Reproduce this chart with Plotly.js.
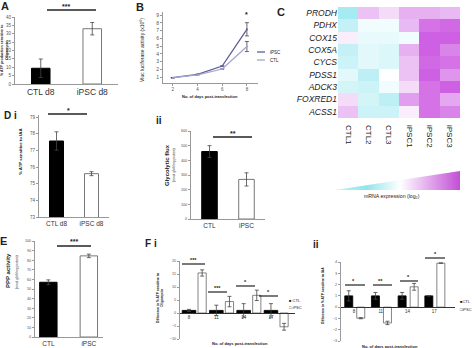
<!DOCTYPE html>
<html><head><meta charset="utf-8">
<script src="https://cdn.plot.ly/plotly-3.0.1.min.js"></script>
<style>html,body{margin:0;padding:0;background:#fff}#g{width:474px;height:348px}</style>
</head><body><div id="g"></div>
<script>
// ---------- DATA ----------
const aCats = ['CTL d8','iPSC d8'];
const aVals = [9.4, 33];
const aErr  = [5.5, 3.7];

const bDays = [2,4,6,8];
const bIPSC = [0.93,1.37,2.44,7.17];
const bIPSCErr = [null,null,null,0.85];
const bCTL  = [0.93,1.30,2.05,4.95];
const bCTLErr = [null,null,null,0.65];

const genes = ['PRODH','PDHX','COX15','COX5A','CYCS','PDSS1','ADCK3','FOXRED1','ACSS1'];
const samples = ['CTL1','CTL2','CTL3','iPSC1','iPSC2','iPSC3'];
const heatZ = [
  [-0.6, 0.35, 0.2, 0.45, 0.45, 0.4],
  [-0.4,-0.1,-0.1, 0.4, 0.8, 0.85],
  [ 0.1,-0.15,-0.15,-0.1, 0.9, 0.9],
  [-0.4,-0.2,-0.25, 0.45, 0.9, 0.7],
  [-0.35,-0.2,-0.25, 0.35, 0.85, 0.8],
  [-0.2,-0.45, 0.0, 0.35, 0.9, 0.6],
  [-0.3,-0.35,-0.1, 0.2, 0.8, 0.9],
  [ 0.2,-0.3,-0.45, 0.55, 0.8, 0.5],
  [ 0.35,-0.35,-0.35, 0.1, 0.8, 0.7]
];
const wedgeX = [0,1,1];
const wedgeY = [0,0,1];

const d1Cats = ['CTL d8','iPSC d8'];
const d1Vals = [77.56, 75.6];
const d1Err  = [0.55, 0.12];

const d2Cats = ['CTL','iPSC'];
const d2Vals = [460, 270];
const d2Err  = [40, 45];

const eCats = ['CTL','iPSC'];
const eVals = [57, 84.5];
const eErr  = [2.5, 1.8];

const fDays = ['8','11','14','17'];
const fPos = [0,1,2,3];
const f1CTL = [1,1,1,1];
const f1CTLErr = [0.4,2,2.6,2.6];
const f1IPSC = [15.4,4.4,6.8,-5.3];
const f1IPSCErr = [1.2,2,2,1.3];
const f2CTL = [1,1,1,1];
const f2CTLErr = [0.45,0.3,0.3,0];
const f2IPSC = [-0.98,-1.4,1.8,3.9];
const f2IPSCErr = [0.05,0.15,0.3,0];

// ---------- HELPERS ----------
const W=474,H=348;
const X=p=>p/W, Y=p=>1-p/H;
const xd=(a,b)=>[X(a),X(b)], yd=(t,b)=>[Y(b),Y(t)];
const FONT='Liberation Sans, Arial, sans-serif';
const tf=(s,c)=>({size:s,color:c||'#555',family:FONT});
function axis(domain, range, extra){
  return Object.assign({domain, range, showgrid:false, zeroline:false, showline:true,
    linecolor:'#999', linewidth:1, ticks:'outside', ticklen:2, tickcolor:'#999',
    tickfont:tf(4.5), fixedrange:true}, extra||{});
}
const anns=[], shapes=[];
function T(text,x,y,size,o){anns.push(Object.assign({xref:'paper',yref:'paper',x:X(x),y:Y(y),text,showarrow:false,
  font:{size,family:FONT,color:'#222'},xanchor:'center',yanchor:'middle'},o||{}));}
function L(x0,x1,y,w,c){shapes.push({type:'line',xref:'paper',yref:'paper',x0:X(x0),x1:X(x1),y0:Y(y),y1:Y(y),line:{color:c||'#222',width:w||1.6}});}
const errS=(arr)=>({type:'data',array:arr,visible:true,color:'#444',thickness:0.8,width:2});
const blackWhite={color:['#000','#fff'],line:{color:['#000','#777'],width:1}};

// ---------- TRACES ----------
const traces=[
 {type:'bar',x:aCats,y:aVals,error_y:errS(aErr),marker:blackWhite,width:0.36,xaxis:'x',yaxis:'y',hoverinfo:'skip'},
 {type:'scatter',mode:'lines+markers',x:bDays,y:bIPSC,error_y:errS(bIPSCErr),line:{color:'#5d5f95',width:1.3},marker:{size:2,color:'#5d5f95'},xaxis:'x2',yaxis:'y2',hoverinfo:'skip'},
 {type:'scatter',mode:'lines+markers',x:bDays,y:bCTL,error_y:errS(bCTLErr),line:{color:'#a3a4d2',width:1.3},marker:{size:2,color:'#a3a4d2'},xaxis:'x2',yaxis:'y2',hoverinfo:'skip'},
 {type:'heatmap',x:samples,y:genes,z:heatZ,zmin:-1,zmax:1,showscale:false,
   colorscale:[[0,'#6ddde9'],[0.5,'#ffffff'],[1,'#c94fe0']],xaxis:'x3',yaxis:'y3',hoverinfo:'skip'},
 {type:'scatter',mode:'lines',x:wedgeX,y:wedgeY,fill:'toself',line:{width:0,color:'rgba(0,0,0,0)'},
   fillgradient:{type:'horizontal',colorscale:[[0,'#c5f3f6'],[0.25,'#8fe5ec'],[0.52,'#ffffff'],[1,'#c24fd6']]},
   xaxis:'x4',yaxis:'y4',hoverinfo:'skip'},
 {type:'bar',x:d1Cats,y:d1Vals,error_y:errS(d1Err),marker:blackWhite,width:0.4,xaxis:'x5',yaxis:'y5',hoverinfo:'skip'},
 {type:'bar',x:d2Cats,y:d2Vals,error_y:errS(d2Err),marker:blackWhite,width:0.42,xaxis:'x6',yaxis:'y6',hoverinfo:'skip'},
 {type:'bar',x:eCats,y:eVals,error_y:errS(eErr),marker:blackWhite,width:0.43,xaxis:'x7',yaxis:'y7',hoverinfo:'skip'},
 {type:'bar',x:fPos,y:f1CTL,error_y:errS(f1CTLErr),marker:{color:'#000',line:{color:'#000',width:0.8}},width:0.5,offset:-0.25,xaxis:'x8',yaxis:'y8',hoverinfo:'skip'},
 {type:'bar',x:fPos,y:f1IPSC,error_y:errS(f1IPSCErr),marker:{color:'#fff',line:{color:'#666',width:0.8}},width:0.3,offset:0.33,xaxis:'x8',yaxis:'y8',hoverinfo:'skip'},
 {type:'bar',x:fPos,y:f2CTL,error_y:errS(f2CTLErr),marker:{color:'#000',line:{color:'#000',width:0.8}},width:0.3,offset:-0.35,xaxis:'x9',yaxis:'y9',hoverinfo:'skip'},
 {type:'bar',x:fPos,y:f2IPSC,error_y:errS(f2IPSCErr),marker:{color:'#fff',line:{color:'#666',width:0.8}},width:0.3,offset:0.1,xaxis:'x9',yaxis:'y9',hoverinfo:'skip'}
];

// ---------- ANNOTATIONS ----------
T('<b>A</b>',5,6,11); T('<b>B</b>',140,7,11); T('<b>C</b>',281,12,11);
T('<b>D i</b>',10,115,10); T('<b>ii</b>',159,121,10); T('<b>E</b>',4,241,11);
T('<b>F i</b>',151,243,10); T('<b>ii</b>',316,245,10);
T('<b>% ATP production sensitive to<br>Oligomycin</b>',4,50,3.6,{textangle:-90});
T('Vluc luciferase activity (x10<sup>6</sup>)',142,50,5,{textangle:-90});
T('<b>No. of days post-transfection</b>',210,96,4);
T('<b>% ATP sensitive to IAA</b>',20,152,4.3,{textangle:-90});
T('<b>Glycolytic flux</b>',167,165,6,{textangle:-90});
T('(nmol glc/h/mg protein)',174,165,3.3,{textangle:-90});
T('<b>PPP activity</b>',8,271,6,{textangle:-90});
T('(nmol glc/h/mg protein)',17,272,3.3,{textangle:-90});
T('<b>Difference in % ATP sensitive to<br>Oligomycin</b>',160,298,3.3,{textangle:-90});
T('<b>No. of days post-transfection</b>',240,343,4);
T('<b>Difference in % ATP sensitive to IAA</b>',323,296,3.3,{textangle:-90});
T('<b>No. of days post-transfection</b>',390,346,4);
T('mRNA expression (log<sub>2</sub>)',392,196,5.2);
L(257,265,52,1.3,'#5d5f95'); L(257,265,60,1.3,'#a3a4d2');
T('iPSC',268,52,4.5,{xanchor:'left'}); T('CTL',268,60,4.5,{xanchor:'left'});
T('■ CTL',287,300,4,{xanchor:'left'}); T('□ iPSC',287,307,4,{xanchor:'left'});
T('■CTL',458,301,4,{xanchor:'left'}); T('□iPSC',458,309,4,{xanchor:'left'});
L(47,96,10); T('<b>***</b>',66,6,7);
T('<b>*</b>',247,14,7);
L(48,87,114); T('<b>*</b>',68,110,7);
L(213,252,137); T('<b>**</b>',233,133,7);
L(57,91,246); T('<b>***</b>',74,241,7);
L(182,205,264,1.2); T('<b>***</b>',193,260,5.5);
L(208,227,292,1.2); T('<b>***</b>',217,288,5.5);
L(236,255,286,1.2); T('<b>*</b>',245,282,5.5);
L(259,278,296,1.2); T('<b>*</b>',268,292,5.5);
L(345,365,285,1.2); T('<b>*</b>',353,281,5.5);
L(373,392,285,1.2); T('<b>**</b>',380,281,5.5);
L(400,418,281,1.2); T('<b>*</b>',408,277,5.5);
L(425,445,258,1.2); T('<b>*</b>',435,254,5.5);

// ---------- LAYOUT ----------
const catX=(dom,rng,fs,anc)=>axis(dom,rng,{type:'category',ticks:'',tickfont:tf(fs,'#333'),anchor:anc});
const layout={
 width:W,height:H,margin:{l:0,r:0,t:0,b:0},paper_bgcolor:'#fff',plot_bgcolor:'rgba(0,0,0,0)',
 showlegend:false,barmode:'group',font:{family:FONT},
 annotations:anns,shapes:shapes,
 xaxis:catX(xd(15,118),[-0.5,1.5],8.5,'y'),
 yaxis:axis(yd(17,84),[0,40],{dtick:5,anchor:'x'}),
 xaxis2:axis(xd(163,258),[1.2,8.9],{tickvals:[2,4,6,8],anchor:'y2'}),
 yaxis2:axis(yd(12,83),[0.25,9.4],{tickvals:[1,2,3,4,5,6,7,8,9],tickfont:tf(5),anchor:'x2'}),
 xaxis3:{domain:xd(338,460),type:'category',tickangle:90,ticklabelstandoff:6,tickfont:{size:8,color:'#222',family:FONT},showline:false,ticks:'',showgrid:false,zeroline:false,anchor:'y3',fixedrange:true},
 yaxis3:{domain:yd(7,118),type:'category',autorange:'reversed',tickfont:{size:8.5,color:'#222',family:FONT,style:'italic'},showline:false,ticks:'',showgrid:false,zeroline:false,anchor:'x3',fixedrange:true},
 xaxis4:{domain:xd(335,460),range:[0,1],visible:false,anchor:'y4',fixedrange:true},
 yaxis4:{domain:yd(171,190),range:[0,1],visible:false,anchor:'x4',fixedrange:true},
 xaxis5:catX(xd(39,109),[-0.5,1.5],6.5,'y5'),
 yaxis5:axis(yd(115,217),[73,79.12],{dtick:1,anchor:'x5'}),
 xaxis6:catX(xd(191,265),[-0.5,1.5],6.5,'y6'),
 yaxis6:axis(yd(131,219),[0,600],{dtick:100,tickfont:tf(3.8),anchor:'x6'}),
 xaxis7:catX(xd(35,103),[-0.33,1.35],6.5,'y7'),
 yaxis7:axis(yd(241,337),[0,100],{dtick:10,tickfont:tf(3.8),anchor:'x7'}),
 xaxis8:axis(xd(180,295),[-0.33,3.88],{anchor:'free',position:Y(313),tickvals:fPos,ticktext:fDays,ticks:'',linecolor:'#333',tickfont:tf(4.5,'#333')}),
 yaxis8:axis(yd(261,339),[-10,20],{dtick:5,tickfont:tf(3.8),anchor:'x8'}),
 xaxis9:axis(xd(341,455),[-0.49,3.78],{anchor:'free',position:Y(307),tickvals:fPos,ticktext:fDays,ticks:'',linecolor:'#333',tickfont:tf(4.5,'#333')}),
 yaxis9:axis(yd(262,341),[-3,4],{dtick:1,tickfont:tf(3.8),anchor:'x9'})
};
Plotly.newPlot('g',traces,layout,{staticPlot:true,displayModeBar:false});
</script></body></html>
